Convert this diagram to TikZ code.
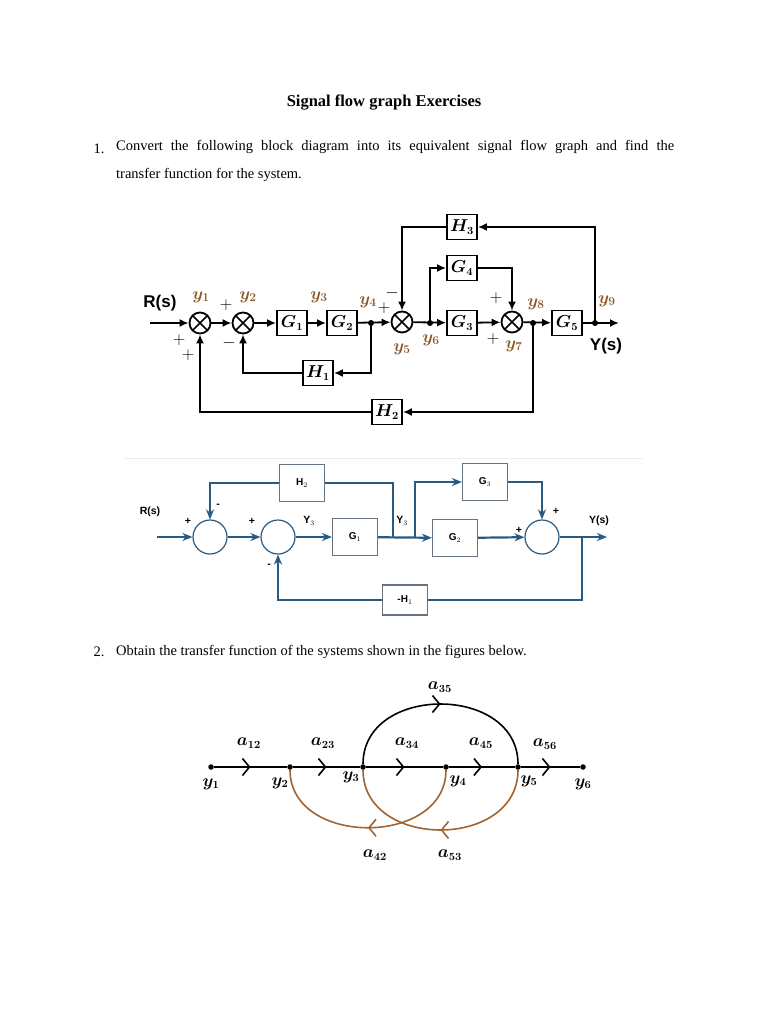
\documentclass[tikz,border=0pt]{standalone}
\usepackage{fontspec}
\setmainfont{Liberation Serif}
\newfontfamily\sansf{Liberation Sans}
\usepackage{amsmath}
\usetikzlibrary{arrows.meta}
\usetikzlibrary{decorations.markings}
\definecolor{ybrown}{RGB}{140,90,40}
\definecolor{arcbrown}{RGB}{160,100,50}
\definecolor{dblue}{RGB}{40,90,130}

\begin{document}
\begin{tikzpicture}[x=1pt,y=-1pt,
  sumx/.style={circle,draw,line width=1.8pt,minimum size=21pt,inner sep=0pt,
    path picture={\draw[line width=1.6pt] (path picture bounding box.north west)--(path picture bounding box.south east)
      (path picture bounding box.north east)--(path picture bounding box.south west);}},
  blk/.style={draw,line width=1.8pt,minimum width=30pt,minimum height=25pt,inner sep=0pt,font=\fontsize{16}{18}\selectfont},
  sig/.style={line width=1.8pt,-{Latex[length=9pt,width=8pt]}},
  yl/.style={text=ybrown,font=\fontsize{17}{19}\selectfont},
  sm/.style={font=\fontsize{17}{19}\selectfont},
  bsum/.style={circle,draw=dblue,line width=1.2pt,minimum size=34pt,inner sep=0pt},
  bblk/.style={draw=gray!70!dblue,line width=1.2pt,minimum width=45pt,minimum height=37pt,font=\sansf\bfseries\fontsize{10}{12}\selectfont},
  bsig/.style={draw=dblue,line width=2.2pt,-{Stealth[length=10pt,width=8pt]}},
  bl/.style={font=\sansf\bfseries\fontsize{10.5}{12}\selectfont},
  dot/.style={circle,fill,inner sep=0pt,minimum size=5.5pt},
  chev/.style={decoration={markings,mark=at position 0.5 with
    {\arrow{Straight Barb[length=7pt,width=17pt,line width=1.6pt]}}},postaction=decorate},
  al/.style={font=\fontsize{16}{18}\selectfont}
  ]
\useasboundingbox (0,0) rectangle (768,1024);

% texts
\node[font=\bfseries\fontsize{16.5}{18}\selectfont] (title) at (384,103) {Signal flow graph Exercises};
\node[font=\fontsize{14.5}{16}\selectfont] (n1) at (99,149) {1.};
\node[anchor=north west,text width=558pt,align=justify,inner sep=0pt,
  font=\fontsize{14.5}{28}\selectfont] (t1) at (116,140)
  {Convert the following block diagram into its equivalent signal flow graph and find the\linebreak transfer function for the system.};
\node[font=\fontsize{14.5}{16}\selectfont] (n2) at (99,652) {2.};
\node[anchor=west,inner sep=0pt,font=\fontsize{14.5}{16}\selectfont] (t2) at (116,652)
  {Obtain the transfer function of the systems shown in the figures below.};

% ---- block diagram 1 ----
\coordinate (in) at (150,323);
\node[sumx] (s1) at (200,323) {};
\node[sumx] (s2) at (243,323) {};
\node[blk] (g1) at (292,323) {$\boldsymbol{G_1}$};
\node[blk] (g2) at (342,323) {$\boldsymbol{G_2}$};
\coordinate (j4) at (371,323);
\node[sumx] (s3) at (402,322) {};
\coordinate (j6) at (430,323);
\node[blk] (g3) at (462,323) {$\boldsymbol{G_3}$};
\node[blk] (g4) at (462,268) {$\boldsymbol{G_4}$};
\node[blk] (h3) at (462,227) {$\boldsymbol{H_3}$};
\node[sumx] (s4) at (512,322) {};
\coordinate (j8) at (533,323);
\node[blk] (g5) at (567,323) {$\boldsymbol{G_5}$};
\coordinate (j9) at (595,323);
\coordinate (out) at (619,323);
\node[blk] (h1) at (318,373) {$\boldsymbol{H_1}$};
\node[blk] (h2) at (387,412) {$\boldsymbol{H_2}$};

\draw[sig] (in) -- (s1);
\draw[sig] (s1) -- (s2);
\draw[sig] (s2) -- (g1);
\draw[sig] (g1) -- (g2);
\draw[sig] (g2) -- (s3);
\draw[sig] (s3) -- (g3);
\draw[sig] (g3) -- (s4);
\draw[sig] (s4) -- (g5);
\draw[sig] (g5) -- (out);
\draw[sig] (j4) |- (h1);
\draw[sig] (h1) -| (s2);
\draw[sig] (j8) |- (h2);
\draw[sig] (h2) -| (s1);
\draw[sig] (j9) |- (h3);
\draw[sig] (h3) -| (s3);
\draw[sig] (j6) |- (g4);
\draw[sig] (g4) -| (s4);
\foreach \j in {j4,j6,j8,j9} \fill (\j) circle (3pt);

\node[font=\sansf\bfseries\fontsize{17}{19}\selectfont] (rs1) at (160,303) {R(s)};
\node[font=\sansf\bfseries\fontsize{17}{19}\selectfont] (ys1) at (606,346) {Y(s)};
\node[sm] (p1) at (226,305) {$+$};
\node[sm] (m1) at (229,343) {$-$};
\node[sm] (p2) at (179,340) {$+$};
\node[sm] (p3) at (188,355) {$+$};
\node[sm] (m2) at (392,293) {$-$};
\node[sm] (p4) at (384,308) {$+$};
\node[sm] (p5) at (496,298) {$+$};
\node[sm] (p6) at (493,339) {$+$};
\node[yl] (ly1) at (201,297) {$\boldsymbol{y_1}$};
\node[yl] (ly2) at (248,297) {$\boldsymbol{y_2}$};
\node[yl] (ly3) at (319,297) {$\boldsymbol{y_3}$};
\node[yl] (ly4) at (368,302) {$\boldsymbol{y_4}$};
\node[yl] (ly5) at (402,349) {$\boldsymbol{y_5}$};
\node[yl] (ly6) at (431,340) {$\boldsymbol{y_6}$};
\node[yl] (ly7) at (514,346) {$\boldsymbol{y_7}$};
\node[yl] (ly8) at (536,304) {$\boldsymbol{y_8}$};
\node[yl] (ly9) at (607,301) {$\boldsymbol{y_9}$};

% ---- block diagram 2 ----
\draw[gray!15] (125,458) -- (642,458);
\coordinate (bin) at (157,537);
\node[bsum] (b1) at (210,537) {};
\node[bsum] (b2) at (278,537) {};
\node[bblk] (bg1) at (355,537) {G$_1$};
\coordinate (bj1) at (393,537);
\coordinate (bj2) at (415,537);
\node[bblk] (bg2) at (455,538) {G$_2$};
\node[bsum] (b3) at (542,537) {};
\node[bblk] (bg3) at (485,482) {G$_3$};
\node[bblk] (bh2) at (302,483) {H$_2$};
\node[bblk,minimum height=30pt] (bh1) at (405,600) {-H$_1$};
\coordinate (bj3) at (582,537);
\coordinate (bout) at (607,537);

\draw[bsig] (bin) -- (b1);
\draw[bsig] (b1) -- (b2);
\draw[bsig] (b2) -- (bg1);
\draw[bsig] (bg1) -- (bg2);
\draw[bsig] (bg2) -- (b3);
\draw[bsig] (b3) -- (bout);
\draw[draw=dblue,line width=2.2pt] (bj1) |- (bh2);
\draw[bsig] (bh2) -| (b1);
\draw[bsig] (bj2) |- (bg3);
\draw[bsig] (bg3) -| (b3);
\draw[draw=dblue,line width=2.2pt] (bj3) |- (bh1);
\draw[bsig] (bh1) -| (b2);

\node[bl] (brs) at (150,512) {R(s)};
\node[bl] (bys) at (599,521) {Y(s)};
\node[bl] (by3a) at (309,521) {Y$_3$};
\node[bl] (by3b) at (402,521) {Y$_3$};
\node[bl] (bp1) at (188,521) {+};
\node[bl] (bm1) at (218,506) {-};
\node[bl] (bp2) at (252,521) {+};
\node[bl] (bm2) at (269,566) {-};
\node[bl] (bp3) at (556,511) {+};
\node[bl] (bp4) at (519,530) {+};

% ---- signal flow graph ----
\node[dot] (f1) at (211,767) {};
\node[dot] (f2) at (290,767) {};
\node[dot] (f3) at (363,767) {};
\node[dot] (f4) at (446,767) {};
\node[dot] (f5) at (518,767) {};
\node[dot] (f6) at (583,767) {};
\draw[line width=1.8pt,chev] (f1) -- (f2);
\draw[line width=1.8pt,chev] (f2) -- (f3);
\draw[line width=1.8pt,chev] (f3) -- (f4);
\draw[line width=1.8pt,chev] (f4) -- (f5);
\draw[line width=1.8pt,chev] (f5) -- (f6);
\draw[line width=1.6pt,chev] (f3) .. controls (363,684) and (518,684) .. (f5);
\draw[line width=1.6pt,arcbrown,chev] (f4) .. controls (446,847) and (290,847) .. (f2);
\draw[line width=1.6pt,arcbrown,chev] (f5) .. controls (518,850) and (363,850) .. (f3);

\node[al] (a12) at (249,743) {$\boldsymbol{a_{12}}$};
\node[al] (a23) at (323,743) {$\boldsymbol{a_{23}}$};
\node[al] (a34) at (407,743) {$\boldsymbol{a_{34}}$};
\node[al] (a45) at (481,743) {$\boldsymbol{a_{45}}$};
\node[al] (a56) at (545,744) {$\boldsymbol{a_{56}}$};
\node[al] (a35) at (440,687) {$\boldsymbol{a_{35}}$};
\node[al] (a42) at (375,855) {$\boldsymbol{a_{42}}$};
\node[al] (a53) at (450,855) {$\boldsymbol{a_{53}}$};
\node[al] (ny1) at (211,784) {$\boldsymbol{y_1}$};
\node[al] (ny2) at (280,783) {$\boldsymbol{y_2}$};
\node[al] (ny3) at (351,777) {$\boldsymbol{y_3}$};
\node[al] (ny4) at (458,781) {$\boldsymbol{y_4}$};
\node[al] (ny5) at (529,781) {$\boldsymbol{y_5}$};
\node[al] (ny6) at (583,784) {$\boldsymbol{y_6}$};
\end{tikzpicture}
\end{document}
